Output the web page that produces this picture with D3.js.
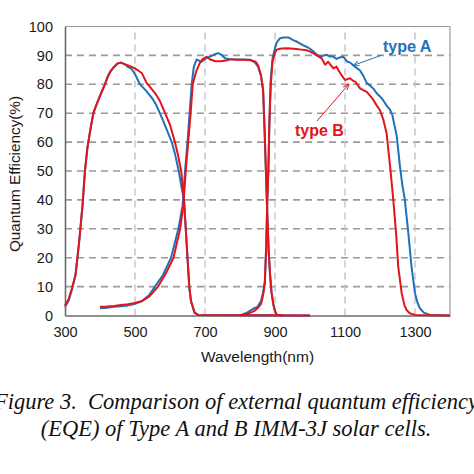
<!DOCTYPE html>
<html><head><meta charset="utf-8">
<script src="https://cdn.jsdelivr.net/npm/d3@7"></script>
<style>body{margin:0;background:#fff}svg{display:block}</style>
</head><body>
<script>
// ---- data: [wavelength nm, quantum efficiency %] ----
const typeA_top = [[300,3],[310,5],[320,9],[330,14],[340,25],[350,38],[357,50],[364,58],[372,64],[381,70],[390,73],[400,76],[414,80],[422,82.6],[430,84.5],[440,86],[450,87.2],[460,87.5],[470,87],[480,86],[490,85.3],[500,83.5],[514,80],[520,79.3],[530,78],[540,76.5],[550,75],[560,73],[571,70],[580,67.5],[590,64.5],[605,60],[615,55.5],[625,50],[632,45],[640,40],[645,30],[650,20],[655,10],[660,5],[670,1],[680,0.2],[1000,0]];
const typeB_top = [[300,3.5],[310,5.5],[320,9.5],[330,14],[340,25],[350,38],[357,50],[364,58],[372,64],[381,70],[390,73],[400,76],[414,80],[422,82.6],[430,84.5],[440,86],[450,87.2],[460,87.5],[470,87],[480,86.5],[490,86],[500,85.5],[510,84.7],[520,83.8],[533,80.5],[540,79.5],[550,78],[560,76.5],[570,74.5],[586,70],[600,66],[614,60],[622,56],[632,50],[640,40],[645,30],[650,20],[655,10],[660,5],[670,1],[680,0.2],[1000,0]];
const typeA_mid = [[400,2.5],[420,2.7],[440,3],[460,3.2],[480,3.5],[500,4],[520,5],[540,7],[557,10],[580,14],[603,20],[624,30],[636,38],[643,50],[650,60],[656,70],[662,80],[668,86],[676,88.6],[683,88.2],[690,87.8],[700,88.8],[714,89.6],[726,90.3],[738,90.8],[747,90.2],[757,89],[770,88.7],[790,88.6],[810,88.6],[830,88.5],[843,87.5],[852,86],[860,83],[866,78],[870,65],[874,50],[878,35],[882,22],[886,14],[890,8],[895,4],[900,1.5],[905,0.3],[920,0]];
const typeB_mid = [[400,3],[420,3.1],[440,3.3],[460,3.6],[480,3.9],[500,4.3],[520,5],[540,6.5],[566,10],[590,15],[610,20],[629,30],[638,38],[645,50],[652,60],[659,70],[665,80],[675,84.5],[685,87.3],[694,88.8],[705,89.5],[715,88.6],[730,88],[745,88],[760,88.2],[775,88.7],[790,88.5],[810,88.5],[830,88.3],[845,87.8],[852,86.5],[860,83],[866,78],[870,65],[874,50],[878,35],[882,22],[886,14],[890,8],[895,4],[900,1.5],[905,0.3],[920,0]];
const typeA_bot = [[800,0],[820,1],[840,2.5],[850,3],[860,5],[866,8],[871,12],[875,25],[878,40],[881,50],[884,68],[888,82],[893,89],[900,92.5],[905,94.5],[914,95.9],[925,96.2],[938,96.2],[952,95.3],[962,94.8],[971,94.2],[981,93.5],[990,93],[1000,92.3],[1010,91.3],[1019,90.3],[1026,89.8],[1033,89.6],[1040,90],[1048,90.2],[1057,89.6],[1066,89.6],[1076,88.8],[1085,89.3],[1095,89.5],[1100,88.8],[1107,87.8],[1115,87.5],[1124,86.5],[1133,85.7],[1143,84.8],[1152,83],[1162,80.5],[1172,79.5],[1181,78.5],[1190,77],[1200,75.8],[1209,74.5],[1218,72.8],[1228,71.3],[1235,69.5],[1241,66],[1248,62],[1257,51.5],[1264,45],[1271,40],[1281,28.4],[1290,17],[1300,7.7],[1307,4.5],[1314,2.5],[1325,1],[1343,0.2],[1400,0]];
const typeB_bot = [[800,0],[820,0.5],[840,1.5],[850,2.5],[860,4],[866,7],[871,11],[875,24],[878,40],[881,50],[884,66],[888,80],[893,88],[900,91],[905,92],[914,92.3],[930,92.5],[945,92.4],[961,92.2],[975,92],[990,91.8],[1000,91.3],[1010,90.7],[1019,90],[1026,89.5],[1033,89],[1038,88],[1043,86.8],[1052,87.8],[1060,86.5],[1067,85.5],[1076,86.1],[1083,84.5],[1090,83.2],[1100,81.5],[1107,81.8],[1114,82.1],[1122,81.3],[1129,80.9],[1136,79.8],[1143,78.6],[1152,78],[1162,77.4],[1172,76],[1181,74.6],[1190,72.8],[1200,71],[1209,68],[1219,63],[1224,57],[1229,51.5],[1238,40],[1246,28.4],[1252,17],[1262,7.7],[1270,3.5],[1276,1.9],[1285,0.8],[1300,0.2],[1400,0]];
const xTicks = [300,500,700,900,1100,1300];
const yTicks = [0,10,20,30,40,50,60,70,80,90,100];
const seriesA = [typeA_top, typeA_mid, typeA_bot];
const seriesB = [typeB_top, typeB_mid, typeB_bot];
const xLabel = "Wavelength(nm)";
const yLabel = "Quantum Efficiency(%)";
const labelA = "type A", labelB = "type B";
const caption1 = "Figure 3.  Comparison of external quantum efficiency";
const caption2 = "(EQE) of Type A and B IMM-3J solar cells.";

const W = 474, H = 474;
const m = {l:65, r:24, t:26.5, b:158.5};
const svg = d3.select("body").append("svg").attr("width",W).attr("height",H);
const x = d3.scaleLinear().domain([300,1400]).range([m.l, W-m.r]);
const y = d3.scaleLinear().domain([0,100]).range([H-m.b, m.t]);
const blue = "#1f72b8", red = "#e3141c";

// grid
const g = svg.append("g");
g.selectAll("line.h").data(yTicks.filter(d=>d>0&&d<100)).join("line")
  .attr("x1",x(300)).attr("x2",x(1400)).attr("y1",d=>y(d)).attr("y2",d=>y(d))
  .attr("stroke","#9a9a9a").attr("stroke-width",1.6).attr("stroke-dasharray","7,5");
g.selectAll("line.v").data(xTicks.filter(d=>d>300)).join("line")
  .attr("x1",d=>x(d)).attr("x2",d=>x(d)).attr("y1",y(0)).attr("y2",y(100))
  .attr("stroke","#c4c4c4").attr("stroke-width",1.4).attr("stroke-dasharray","7,5");
// frame top/right
svg.append("line").attr("x1",x(300)).attr("x2",x(1400)).attr("y1",y(100)).attr("y2",y(100)).attr("stroke","#9a9a9a").attr("stroke-width",1.2);
svg.append("line").attr("x1",x(1400)).attr("x2",x(1400)).attr("y1",y(0)).attr("y2",y(100)).attr("stroke","#9a9a9a").attr("stroke-width",1.2);

// axes
const font = "Liberation Sans, Arial, sans-serif";
const xa = svg.append("g").attr("transform",`translate(0,${y(0)})`)
  .call(d3.axisBottom(x).tickValues(xTicks).tickSize(0).tickPadding(11).tickFormat(d3.format("d")));
const ya = svg.append("g").attr("transform",`translate(${x(300)},0)`)
  .call(d3.axisLeft(y).tickValues(yTicks).tickSize(0).tickPadding(12));
[xa,ya].forEach(a=>{a.select(".domain").attr("stroke","#6b6b6b").attr("stroke-width",1.6);
  a.selectAll("text").attr("font-family",font).attr("font-size",14.5).attr("fill","#1a1a1a");});

// lines
const line = d3.line().x(d=>x(d[0])).y(d=>y(d[1]));
const lg = svg.append("g").attr("fill","none").attr("stroke-width",2).attr("stroke-linejoin","round");
lg.selectAll("path.a").data(seriesA).join("path").attr("d",line).attr("stroke",blue);
lg.selectAll("path.b").data(seriesB).join("path").attr("d",line).attr("stroke",red);

// axis titles
svg.append("text").attr("x",(x(300)+x(1400))/2).attr("y",362).attr("text-anchor","middle")
  .attr("font-family",font).attr("font-size",15.5).attr("fill","#1a1a1a").text(xLabel);
svg.append("text").attr("transform",`translate(20,${(y(0)+y(100))/2+3}) rotate(-90)`).attr("text-anchor","middle")
  .attr("font-family",font).attr("font-size",15.3).attr("fill","#1a1a1a").text(yLabel);

// annotations
const defs = svg.append("defs");
[["arA",blue],["arB",red]].forEach(([id,c])=>{
  defs.append("marker").attr("id",id).attr("viewBox","0 0 10 10").attr("refX",9).attr("refY",5)
    .attr("markerWidth",7).attr("markerHeight",7).attr("orient","auto")
    .append("path").attr("d","M0,1.5 L10,5 L0,8.5").attr("fill","none").attr("stroke",c).attr("stroke-width",1.3);
});
svg.append("line").attr("x1",382).attr("y1",55).attr("x2",353).attr("y2",65.5)
  .attr("stroke",blue).attr("stroke-width",1).attr("marker-end","url(#arA)");
svg.append("line").attr("x1",317).attr("y1",121).attr("x2",349).attr("y2",84)
  .attr("stroke",red).attr("stroke-width",1).attr("marker-end","url(#arB)");
svg.append("text").attr("x",383).attr("y",52).attr("font-family",font).attr("font-weight","bold")
  .attr("font-size",16).attr("fill",blue).text(labelA);
svg.append("text").attr("x",295).attr("y",136).attr("font-family",font).attr("font-weight","bold")
  .attr("font-size",16).attr("fill",red).text(labelB);

// caption
const cap = svg.append("g").attr("font-family","Liberation Serif, Times New Roman, serif")
  .attr("font-style","italic").attr("font-size",22.5).attr("fill","#111").attr("text-anchor","middle");
cap.append("text").attr("x",236).attr("y",409).attr("xml:space","preserve").style("white-space","pre").text(caption1);
cap.append("text").attr("x",236).attr("y",436).text(caption2);
</script>
</body></html>
